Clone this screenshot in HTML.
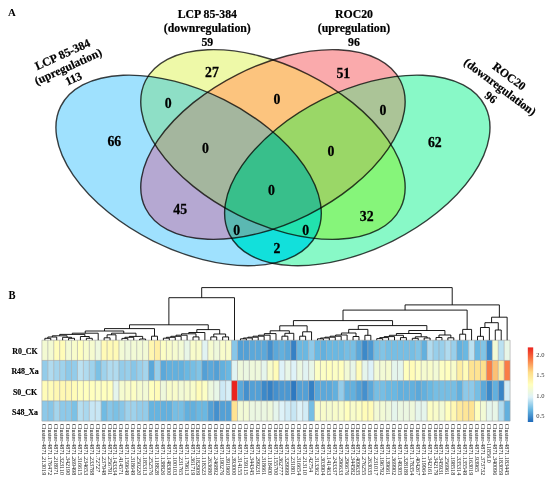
<!DOCTYPE html>
<html><head><meta charset="utf-8"><style>
html,body{margin:0;padding:0;background:#fff;}
svg{display:block;}
text{font-family:"Liberation Serif","Times New Roman",serif;}
.n{font-size:13.8px;font-weight:bold;text-anchor:middle;fill:#000;stroke:#000;stroke-width:0.25px;}
.l{font-size:11.8px;font-weight:bold;text-anchor:middle;fill:#000;stroke:#000;stroke-width:0.2px;}
.pl{font-size:11.5px;font-weight:bold;fill:#000;}
.rl{font-size:7.9px;font-weight:bold;text-anchor:middle;fill:#000;stroke:#000;stroke-width:0.15px;}
.cb{font-size:6.5px;fill:#333;}
.cl{font-size:6.1px;fill:#111;}
</style></head><body>
<svg width="550" height="482" viewBox="0 0 550 482">
<rect width="550" height="482" fill="#fff"/>
<text x="8.1" y="15.6" class="pl" style="font-size:10.8px">A</text>
<text transform="translate(8.5 299.0) scale(0.92 1.05)" class="pl">B</text>
<defs><clipPath id="cB"><ellipse cx="188.60" cy="170.40" rx="143.0" ry="79.0" transform="rotate(26.57 188.60 170.40)" /></clipPath><clipPath id="cY"><ellipse cx="272.95" cy="144.52" rx="142.5" ry="78.55" transform="rotate(26.57 272.95 144.52)" /></clipPath><clipPath id="cP"><ellipse cx="272.95" cy="144.52" rx="142.5" ry="78.55" transform="rotate(-26.57 272.95 144.52)" /></clipPath><clipPath id="cG"><ellipse cx="357.30" cy="170.40" rx="143.0" ry="79.0" transform="rotate(-26.57 357.30 170.40)" /></clipPath></defs><ellipse cx="188.60" cy="170.40" rx="143.0" ry="79.0" transform="rotate(26.57 188.60 170.40)" fill="#9fe1fe"/><ellipse cx="272.95" cy="144.52" rx="142.5" ry="78.55" transform="rotate(26.57 272.95 144.52)" fill="#eef9a8"/><ellipse cx="272.95" cy="144.52" rx="142.5" ry="78.55" transform="rotate(-26.57 272.95 144.52)" fill="#faaaac"/><ellipse cx="357.30" cy="170.40" rx="143.0" ry="79.0" transform="rotate(-26.57 357.30 170.40)" fill="#88f9c7"/><g clip-path="url(#cY)"><ellipse cx="188.60" cy="170.40" rx="143.0" ry="79.0" transform="rotate(26.57 188.60 170.40)" fill="#8edfc6"/></g><g clip-path="url(#cP)"><ellipse cx="188.60" cy="170.40" rx="143.0" ry="79.0" transform="rotate(26.57 188.60 170.40)" fill="#b5a8d2"/></g><g clip-path="url(#cG)"><ellipse cx="188.60" cy="170.40" rx="143.0" ry="79.0" transform="rotate(26.57 188.60 170.40)" fill="#12e0db"/></g><g clip-path="url(#cP)"><ellipse cx="272.95" cy="144.52" rx="142.5" ry="78.55" transform="rotate(26.57 272.95 144.52)" fill="#fcc47e"/></g><g clip-path="url(#cG)"><ellipse cx="272.95" cy="144.52" rx="142.5" ry="78.55" transform="rotate(26.57 272.95 144.52)" fill="#86f57a"/></g><g clip-path="url(#cG)"><ellipse cx="272.95" cy="144.52" rx="142.5" ry="78.55" transform="rotate(-26.57 272.95 144.52)" fill="#abc497"/></g><g clip-path="url(#cP)"><g clip-path="url(#cY)"><ellipse cx="188.60" cy="170.40" rx="143.0" ry="79.0" transform="rotate(26.57 188.60 170.40)" fill="#a4b69e"/></g></g><g clip-path="url(#cG)"><g clip-path="url(#cY)"><ellipse cx="188.60" cy="170.40" rx="143.0" ry="79.0" transform="rotate(26.57 188.60 170.40)" fill="#22e2ae"/></g></g><g clip-path="url(#cG)"><g clip-path="url(#cP)"><ellipse cx="188.60" cy="170.40" rx="143.0" ry="79.0" transform="rotate(26.57 188.60 170.40)" fill="#5bb8b2"/></g></g><g clip-path="url(#cG)"><g clip-path="url(#cP)"><ellipse cx="272.95" cy="144.52" rx="142.5" ry="78.55" transform="rotate(26.57 272.95 144.52)" fill="#9ad767"/></g></g><g clip-path="url(#cG)"><g clip-path="url(#cP)"><g clip-path="url(#cY)"><ellipse cx="188.60" cy="170.40" rx="143.0" ry="79.0" transform="rotate(26.57 188.60 170.40)" fill="#38bf8b"/></g></g></g><ellipse cx="188.60" cy="170.40" rx="143.0" ry="79.0" transform="rotate(26.57 188.60 170.40)" fill="none" stroke="#000" stroke-width="1.4" stroke-opacity="0.75"/><ellipse cx="272.95" cy="144.52" rx="142.5" ry="78.55" transform="rotate(26.57 272.95 144.52)" fill="none" stroke="#000" stroke-width="1.4" stroke-opacity="0.75"/><ellipse cx="272.95" cy="144.52" rx="142.5" ry="78.55" transform="rotate(-26.57 272.95 144.52)" fill="none" stroke="#000" stroke-width="1.4" stroke-opacity="0.75"/><ellipse cx="357.30" cy="170.40" rx="143.0" ry="79.0" transform="rotate(-26.57 357.30 170.40)" fill="none" stroke="#000" stroke-width="1.4" stroke-opacity="0.75"/><text transform="translate(114.3 145.85) scale(1 1.1)" class="n">66</text><text transform="translate(212 76.85) scale(1 1.1)" class="n">27</text><text transform="translate(343.3 77.75) scale(1 1.1)" class="n">51</text><text transform="translate(434.8 146.85) scale(1 1.1)" class="n">62</text><text transform="translate(168.2 107.75) scale(1 1.1)" class="n">0</text><text transform="translate(277 104.05) scale(1 1.1)" class="n">0</text><text transform="translate(383 114.85) scale(1 1.1)" class="n">0</text><text transform="translate(205.5 152.75) scale(1 1.1)" class="n">0</text><text transform="translate(331 156.05) scale(1 1.1)" class="n">0</text><text transform="translate(271.5 194.55) scale(1 1.1)" class="n">0</text><text transform="translate(180.2 213.95) scale(1 1.1)" class="n">45</text><text transform="translate(366.7 220.65) scale(1 1.1)" class="n">32</text><text transform="translate(236.6 234.95) scale(1 1.1)" class="n">0</text><text transform="translate(305.8 234.95) scale(1 1.1)" class="n">0</text><text transform="translate(277 252.85) scale(1 1.1)" class="n">2</text><text x="207.3" y="17.8" class="l">LCP 85-384</text><text x="207.3" y="31.8" class="l">(downregulation)</text><text x="207.3" y="45.8" class="l">59</text><text x="354" y="17.8" class="l">ROC20</text><text x="354" y="31.8" class="l">(upregulation)</text><text x="354" y="45.8" class="l">96</text><g transform="translate(68.0 66.4) scale(1 1.0) rotate(-24.5)"><text x="0" y="-9.20" class="l">LCP 85-384</text><text x="0" y="4.10" class="l">(upregulation)</text><text x="0" y="17.40" class="l">113</text></g><g transform="translate(499.4 86.1) scale(1 1.0) rotate(37.0)"><text x="2.0" y="-9.80" class="l">ROC20</text><text x="1.0" y="4.10" class="l">(downregulation)</text><text x="0" y="18.00" class="l">96</text></g>
<rect x="41.90" y="340.20" width="5.93" height="20.23" fill="#f3fad2"/><rect x="47.83" y="340.20" width="5.93" height="20.23" fill="#f3fad2"/><rect x="53.75" y="340.20" width="5.93" height="20.23" fill="#fffdbb"/><rect x="59.68" y="340.20" width="5.93" height="20.23" fill="#fffcb8"/><rect x="65.61" y="340.20" width="5.93" height="20.23" fill="#f3fad2"/><rect x="71.53" y="340.20" width="5.93" height="20.23" fill="#f8fcca"/><rect x="77.46" y="340.20" width="5.93" height="20.23" fill="#ffffbe"/><rect x="83.39" y="340.20" width="5.93" height="20.23" fill="#f7fccc"/><rect x="89.31" y="340.20" width="5.93" height="20.23" fill="#f5fbcf"/><rect x="95.24" y="340.20" width="5.93" height="20.23" fill="#edf8de"/><rect x="101.17" y="340.20" width="5.93" height="20.23" fill="#fffab6"/><rect x="107.09" y="340.20" width="5.93" height="20.23" fill="#fffab6"/><rect x="113.02" y="340.20" width="5.93" height="20.23" fill="#fffab6"/><rect x="118.95" y="340.20" width="5.93" height="20.23" fill="#f2fad5"/><rect x="124.87" y="340.20" width="5.93" height="20.23" fill="#eef8db"/><rect x="130.80" y="340.20" width="5.93" height="20.23" fill="#f2fad5"/><rect x="136.73" y="340.20" width="5.93" height="20.23" fill="#f2fad5"/><rect x="142.65" y="340.20" width="5.93" height="20.23" fill="#f2fad5"/><rect x="148.58" y="340.20" width="5.93" height="20.23" fill="#fff6b0"/><rect x="154.51" y="340.20" width="5.93" height="20.23" fill="#ffefa5"/><rect x="160.43" y="340.20" width="5.93" height="20.23" fill="#fcfec4"/><rect x="166.36" y="340.20" width="5.93" height="20.23" fill="#f8fcca"/><rect x="172.28" y="340.20" width="5.93" height="20.23" fill="#f5fbcf"/><rect x="178.21" y="340.20" width="5.93" height="20.23" fill="#f2fad5"/><rect x="184.14" y="340.20" width="5.93" height="20.23" fill="#e8f6e7"/><rect x="190.06" y="340.20" width="5.93" height="20.23" fill="#f8fcca"/><rect x="195.99" y="340.20" width="5.93" height="20.23" fill="#f8fcca"/><rect x="201.92" y="340.20" width="5.93" height="20.23" fill="#e1f3f2"/><rect x="207.84" y="340.20" width="5.93" height="20.23" fill="#f5fbcf"/><rect x="213.77" y="340.20" width="5.93" height="20.23" fill="#eef8db"/><rect x="219.70" y="340.20" width="5.93" height="20.23" fill="#f8fcca"/><rect x="225.62" y="340.20" width="5.93" height="20.23" fill="#f8fcca"/><rect x="231.55" y="340.20" width="5.93" height="20.23" fill="#87c6e8"/><rect x="237.48" y="340.20" width="5.93" height="20.23" fill="#53a0d6"/><rect x="243.40" y="340.20" width="5.93" height="20.23" fill="#53a0d6"/><rect x="249.33" y="340.20" width="5.93" height="20.23" fill="#5ba8da"/><rect x="255.26" y="340.20" width="5.93" height="20.23" fill="#5ba8da"/><rect x="261.18" y="340.20" width="5.93" height="20.23" fill="#5ba8da"/><rect x="267.11" y="340.20" width="5.93" height="20.23" fill="#4490ce"/><rect x="273.04" y="340.20" width="5.93" height="20.23" fill="#5ba8da"/><rect x="278.96" y="340.20" width="5.93" height="20.23" fill="#62b0de"/><rect x="284.89" y="340.20" width="5.93" height="20.23" fill="#5ba8da"/><rect x="290.82" y="340.20" width="5.93" height="20.23" fill="#3581c5"/><rect x="296.74" y="340.20" width="5.93" height="20.23" fill="#6ab8e2"/><rect x="302.67" y="340.20" width="5.93" height="20.23" fill="#6ab8e2"/><rect x="308.60" y="340.20" width="5.93" height="20.23" fill="#8dc9e9"/><rect x="314.52" y="340.20" width="5.93" height="20.23" fill="#6ab8e2"/><rect x="320.45" y="340.20" width="5.93" height="20.23" fill="#62b0de"/><rect x="326.38" y="340.20" width="5.93" height="20.23" fill="#6ab8e2"/><rect x="332.30" y="340.20" width="5.93" height="20.23" fill="#6ab8e2"/><rect x="338.23" y="340.20" width="5.93" height="20.23" fill="#6ab8e2"/><rect x="344.16" y="340.20" width="5.93" height="20.23" fill="#76bee4"/><rect x="350.08" y="340.20" width="5.93" height="20.23" fill="#76bee4"/><rect x="356.01" y="340.20" width="5.93" height="20.23" fill="#5ba8da"/><rect x="361.94" y="340.20" width="5.93" height="20.23" fill="#3c89c9"/><rect x="367.86" y="340.20" width="5.93" height="20.23" fill="#4c98d2"/><rect x="373.79" y="340.20" width="5.93" height="20.23" fill="#76bee4"/><rect x="379.72" y="340.20" width="5.93" height="20.23" fill="#81c4e6"/><rect x="385.64" y="340.20" width="5.93" height="20.23" fill="#76bee4"/><rect x="391.57" y="340.20" width="5.93" height="20.23" fill="#76bee4"/><rect x="397.49" y="340.20" width="5.93" height="20.23" fill="#76bee4"/><rect x="403.42" y="340.20" width="5.93" height="20.23" fill="#76bee4"/><rect x="409.35" y="340.20" width="5.93" height="20.23" fill="#76bee4"/><rect x="415.27" y="340.20" width="5.93" height="20.23" fill="#81c4e6"/><rect x="421.20" y="340.20" width="5.93" height="20.23" fill="#62b0de"/><rect x="427.13" y="340.20" width="5.93" height="20.23" fill="#b0dbef"/><rect x="433.05" y="340.20" width="5.93" height="20.23" fill="#98cfeb"/><rect x="438.98" y="340.20" width="5.93" height="20.23" fill="#98cfeb"/><rect x="444.91" y="340.20" width="5.93" height="20.23" fill="#b0dbef"/><rect x="450.83" y="340.20" width="5.93" height="20.23" fill="#98cfeb"/><rect x="456.76" y="340.20" width="5.93" height="20.23" fill="#62b0de"/><rect x="462.69" y="340.20" width="5.93" height="20.23" fill="#6ab8e2"/><rect x="468.61" y="340.20" width="5.93" height="20.23" fill="#bbe1f1"/><rect x="474.54" y="340.20" width="5.93" height="20.23" fill="#6ab8e2"/><rect x="480.47" y="340.20" width="5.93" height="20.23" fill="#81c4e6"/><rect x="486.39" y="340.20" width="5.93" height="20.23" fill="#3c89c9"/><rect x="492.32" y="340.20" width="5.93" height="20.23" fill="#f2fad5"/><rect x="498.25" y="340.20" width="5.93" height="20.23" fill="#bbe1f1"/><rect x="504.17" y="340.20" width="5.93" height="20.23" fill="#e8f6e7"/><rect x="41.90" y="360.43" width="5.93" height="20.23" fill="#93ccea"/><rect x="47.83" y="360.43" width="5.93" height="20.23" fill="#b0dbef"/><rect x="53.75" y="360.43" width="5.93" height="20.23" fill="#a4d5ed"/><rect x="59.68" y="360.43" width="5.93" height="20.23" fill="#9ed2ec"/><rect x="65.61" y="360.43" width="5.93" height="20.23" fill="#8dc9e9"/><rect x="71.53" y="360.43" width="5.93" height="20.23" fill="#93ccea"/><rect x="77.46" y="360.43" width="5.93" height="20.23" fill="#bbe1f1"/><rect x="83.39" y="360.43" width="5.93" height="20.23" fill="#b0dbef"/><rect x="89.31" y="360.43" width="5.93" height="20.23" fill="#9ed2ec"/><rect x="95.24" y="360.43" width="5.93" height="20.23" fill="#7bc1e5"/><rect x="101.17" y="360.43" width="5.93" height="20.23" fill="#9ed2ec"/><rect x="107.09" y="360.43" width="5.93" height="20.23" fill="#b0dbef"/><rect x="113.02" y="360.43" width="5.93" height="20.23" fill="#b0dbef"/><rect x="118.95" y="360.43" width="5.93" height="20.23" fill="#93ccea"/><rect x="124.87" y="360.43" width="5.93" height="20.23" fill="#98cfeb"/><rect x="130.80" y="360.43" width="5.93" height="20.23" fill="#87c6e8"/><rect x="136.73" y="360.43" width="5.93" height="20.23" fill="#98cfeb"/><rect x="142.65" y="360.43" width="5.93" height="20.23" fill="#a4d5ed"/><rect x="148.58" y="360.43" width="5.93" height="20.23" fill="#5ba8da"/><rect x="154.51" y="360.43" width="5.93" height="20.23" fill="#98cfeb"/><rect x="160.43" y="360.43" width="5.93" height="20.23" fill="#5ba8da"/><rect x="166.36" y="360.43" width="5.93" height="20.23" fill="#62b0de"/><rect x="172.28" y="360.43" width="5.93" height="20.23" fill="#62b0de"/><rect x="178.21" y="360.43" width="5.93" height="20.23" fill="#62b0de"/><rect x="184.14" y="360.43" width="5.93" height="20.23" fill="#6ab8e2"/><rect x="190.06" y="360.43" width="5.93" height="20.23" fill="#76bee4"/><rect x="195.99" y="360.43" width="5.93" height="20.23" fill="#81c4e6"/><rect x="201.92" y="360.43" width="5.93" height="20.23" fill="#53a0d6"/><rect x="207.84" y="360.43" width="5.93" height="20.23" fill="#5ba8da"/><rect x="213.77" y="360.43" width="5.93" height="20.23" fill="#53a0d6"/><rect x="219.70" y="360.43" width="5.93" height="20.23" fill="#62b0de"/><rect x="225.62" y="360.43" width="5.93" height="20.23" fill="#6ab8e2"/><rect x="231.55" y="360.43" width="5.93" height="20.23" fill="#e1f3f2"/><rect x="237.48" y="360.43" width="5.93" height="20.23" fill="#eef8db"/><rect x="243.40" y="360.43" width="5.93" height="20.23" fill="#ebf7e1"/><rect x="249.33" y="360.43" width="5.93" height="20.23" fill="#eef8db"/><rect x="255.26" y="360.43" width="5.93" height="20.23" fill="#eef8db"/><rect x="261.18" y="360.43" width="5.93" height="20.23" fill="#e5f5ec"/><rect x="267.11" y="360.43" width="5.93" height="20.23" fill="#f8fcca"/><rect x="273.04" y="360.43" width="5.93" height="20.23" fill="#fffcb8"/><rect x="278.96" y="360.43" width="5.93" height="20.23" fill="#def2f8"/><rect x="284.89" y="360.43" width="5.93" height="20.23" fill="#e8f6e7"/><rect x="290.82" y="360.43" width="5.93" height="20.23" fill="#def2f8"/><rect x="296.74" y="360.43" width="5.93" height="20.23" fill="#ebf7e1"/><rect x="302.67" y="360.43" width="5.93" height="20.23" fill="#e1f3f2"/><rect x="308.60" y="360.43" width="5.93" height="20.23" fill="#e8f6e7"/><rect x="314.52" y="360.43" width="5.93" height="20.23" fill="#fcfec4"/><rect x="320.45" y="360.43" width="5.93" height="20.23" fill="#fcfec4"/><rect x="326.38" y="360.43" width="5.93" height="20.23" fill="#ffffbe"/><rect x="332.30" y="360.43" width="5.93" height="20.23" fill="#fcfec4"/><rect x="338.23" y="360.43" width="5.93" height="20.23" fill="#ffffbe"/><rect x="344.16" y="360.43" width="5.93" height="20.23" fill="#f2fad5"/><rect x="350.08" y="360.43" width="5.93" height="20.23" fill="#e8f6e7"/><rect x="356.01" y="360.43" width="5.93" height="20.23" fill="#fffcb8"/><rect x="361.94" y="360.43" width="5.93" height="20.23" fill="#e5f5ec"/><rect x="367.86" y="360.43" width="5.93" height="20.23" fill="#def2f8"/><rect x="373.79" y="360.43" width="5.93" height="20.23" fill="#f2fad5"/><rect x="379.72" y="360.43" width="5.93" height="20.23" fill="#f2fad5"/><rect x="385.64" y="360.43" width="5.93" height="20.23" fill="#f5fbcf"/><rect x="391.57" y="360.43" width="5.93" height="20.23" fill="#e5f5ec"/><rect x="397.49" y="360.43" width="5.93" height="20.23" fill="#e5f5ec"/><rect x="403.42" y="360.43" width="5.93" height="20.23" fill="#ffffbe"/><rect x="409.35" y="360.43" width="5.93" height="20.23" fill="#fffcb8"/><rect x="415.27" y="360.43" width="5.93" height="20.23" fill="#fcfec4"/><rect x="421.20" y="360.43" width="5.93" height="20.23" fill="#f5fbcf"/><rect x="427.13" y="360.43" width="5.93" height="20.23" fill="#f8fcca"/><rect x="433.05" y="360.43" width="5.93" height="20.23" fill="#f2fad5"/><rect x="438.98" y="360.43" width="5.93" height="20.23" fill="#fcfec4"/><rect x="444.91" y="360.43" width="5.93" height="20.23" fill="#ffffbe"/><rect x="450.83" y="360.43" width="5.93" height="20.23" fill="#f8fcca"/><rect x="456.76" y="360.43" width="5.93" height="20.23" fill="#feeea2"/><rect x="462.69" y="360.43" width="5.93" height="20.23" fill="#fffcb8"/><rect x="468.61" y="360.43" width="5.93" height="20.23" fill="#fee392"/><rect x="474.54" y="360.43" width="5.93" height="20.23" fill="#fee392"/><rect x="480.47" y="360.43" width="5.93" height="20.23" fill="#fee08c"/><rect x="486.39" y="360.43" width="5.93" height="20.23" fill="#fa7d46"/><rect x="492.32" y="360.43" width="5.93" height="20.23" fill="#fdc074"/><rect x="498.25" y="360.43" width="5.93" height="20.23" fill="#feeea2"/><rect x="504.17" y="360.43" width="5.93" height="20.23" fill="#fa7d46"/><rect x="41.90" y="380.65" width="5.93" height="20.23" fill="#fffcb8"/><rect x="47.83" y="380.65" width="5.93" height="20.23" fill="#fffcb8"/><rect x="53.75" y="380.65" width="5.93" height="20.23" fill="#fff8b3"/><rect x="59.68" y="380.65" width="5.93" height="20.23" fill="#fff8b3"/><rect x="65.61" y="380.65" width="5.93" height="20.23" fill="#fff8b3"/><rect x="71.53" y="380.65" width="5.93" height="20.23" fill="#fffcb8"/><rect x="77.46" y="380.65" width="5.93" height="20.23" fill="#ffffbe"/><rect x="83.39" y="380.65" width="5.93" height="20.23" fill="#ffffbe"/><rect x="89.31" y="380.65" width="5.93" height="20.23" fill="#ffffbe"/><rect x="95.24" y="380.65" width="5.93" height="20.23" fill="#fcfec4"/><rect x="101.17" y="380.65" width="5.93" height="20.23" fill="#ffffbe"/><rect x="107.09" y="380.65" width="5.93" height="20.23" fill="#ffffbe"/><rect x="113.02" y="380.65" width="5.93" height="20.23" fill="#e5f5ec"/><rect x="118.95" y="380.65" width="5.93" height="20.23" fill="#f5fbcf"/><rect x="124.87" y="380.65" width="5.93" height="20.23" fill="#f8fcca"/><rect x="130.80" y="380.65" width="5.93" height="20.23" fill="#fcfec4"/><rect x="136.73" y="380.65" width="5.93" height="20.23" fill="#f5fbcf"/><rect x="142.65" y="380.65" width="5.93" height="20.23" fill="#f2fad5"/><rect x="148.58" y="380.65" width="5.93" height="20.23" fill="#ffffbe"/><rect x="154.51" y="380.65" width="5.93" height="20.23" fill="#fffcb8"/><rect x="160.43" y="380.65" width="5.93" height="20.23" fill="#eef8db"/><rect x="166.36" y="380.65" width="5.93" height="20.23" fill="#f8fcca"/><rect x="172.28" y="380.65" width="5.93" height="20.23" fill="#f8fcca"/><rect x="178.21" y="380.65" width="5.93" height="20.23" fill="#f2fad5"/><rect x="184.14" y="380.65" width="5.93" height="20.23" fill="#f5fbcf"/><rect x="190.06" y="380.65" width="5.93" height="20.23" fill="#f8fcca"/><rect x="195.99" y="380.65" width="5.93" height="20.23" fill="#fffcb8"/><rect x="201.92" y="380.65" width="5.93" height="20.23" fill="#fcfec4"/><rect x="207.84" y="380.65" width="5.93" height="20.23" fill="#edf8de"/><rect x="213.77" y="380.65" width="5.93" height="20.23" fill="#e8f6e7"/><rect x="219.70" y="380.65" width="5.93" height="20.23" fill="#cde9f5"/><rect x="225.62" y="380.65" width="5.93" height="20.23" fill="#d8eff7"/><rect x="231.55" y="380.65" width="5.93" height="20.23" fill="#eb231e"/><rect x="237.48" y="380.65" width="5.93" height="20.23" fill="#5ba8da"/><rect x="243.40" y="380.65" width="5.93" height="20.23" fill="#4490ce"/><rect x="249.33" y="380.65" width="5.93" height="20.23" fill="#53a0d6"/><rect x="255.26" y="380.65" width="5.93" height="20.23" fill="#53a0d6"/><rect x="261.18" y="380.65" width="5.93" height="20.23" fill="#3c89c9"/><rect x="267.11" y="380.65" width="5.93" height="20.23" fill="#3581c5"/><rect x="273.04" y="380.65" width="5.93" height="20.23" fill="#4490ce"/><rect x="278.96" y="380.65" width="5.93" height="20.23" fill="#4c98d2"/><rect x="284.89" y="380.65" width="5.93" height="20.23" fill="#4c98d2"/><rect x="290.82" y="380.65" width="5.93" height="20.23" fill="#2d79c1"/><rect x="296.74" y="380.65" width="5.93" height="20.23" fill="#53a0d6"/><rect x="302.67" y="380.65" width="5.93" height="20.23" fill="#53a0d6"/><rect x="308.60" y="380.65" width="5.93" height="20.23" fill="#3581c5"/><rect x="314.52" y="380.65" width="5.93" height="20.23" fill="#5ba8da"/><rect x="320.45" y="380.65" width="5.93" height="20.23" fill="#5ba8da"/><rect x="326.38" y="380.65" width="5.93" height="20.23" fill="#5ba8da"/><rect x="332.30" y="380.65" width="5.93" height="20.23" fill="#62b0de"/><rect x="338.23" y="380.65" width="5.93" height="20.23" fill="#93ccea"/><rect x="344.16" y="380.65" width="5.93" height="20.23" fill="#62b0de"/><rect x="350.08" y="380.65" width="5.93" height="20.23" fill="#62b0de"/><rect x="356.01" y="380.65" width="5.93" height="20.23" fill="#53a0d6"/><rect x="361.94" y="380.65" width="5.93" height="20.23" fill="#4490ce"/><rect x="367.86" y="380.65" width="5.93" height="20.23" fill="#5ba8da"/><rect x="373.79" y="380.65" width="5.93" height="20.23" fill="#76bee4"/><rect x="379.72" y="380.65" width="5.93" height="20.23" fill="#76bee4"/><rect x="385.64" y="380.65" width="5.93" height="20.23" fill="#6ab8e2"/><rect x="391.57" y="380.65" width="5.93" height="20.23" fill="#6ab8e2"/><rect x="397.49" y="380.65" width="5.93" height="20.23" fill="#62b0de"/><rect x="403.42" y="380.65" width="5.93" height="20.23" fill="#62b0de"/><rect x="409.35" y="380.65" width="5.93" height="20.23" fill="#62b0de"/><rect x="415.27" y="380.65" width="5.93" height="20.23" fill="#5ba8da"/><rect x="421.20" y="380.65" width="5.93" height="20.23" fill="#62b0de"/><rect x="427.13" y="380.65" width="5.93" height="20.23" fill="#6ab8e2"/><rect x="433.05" y="380.65" width="5.93" height="20.23" fill="#76bee4"/><rect x="438.98" y="380.65" width="5.93" height="20.23" fill="#76bee4"/><rect x="444.91" y="380.65" width="5.93" height="20.23" fill="#76bee4"/><rect x="450.83" y="380.65" width="5.93" height="20.23" fill="#76bee4"/><rect x="456.76" y="380.65" width="5.93" height="20.23" fill="#62b0de"/><rect x="462.69" y="380.65" width="5.93" height="20.23" fill="#8dc9e9"/><rect x="468.61" y="380.65" width="5.93" height="20.23" fill="#8dc9e9"/><rect x="474.54" y="380.65" width="5.93" height="20.23" fill="#76bee4"/><rect x="480.47" y="380.65" width="5.93" height="20.23" fill="#5ba8da"/><rect x="486.39" y="380.65" width="5.93" height="20.23" fill="#3c89c9"/><rect x="492.32" y="380.65" width="5.93" height="20.23" fill="#62b0de"/><rect x="498.25" y="380.65" width="5.93" height="20.23" fill="#3985c7"/><rect x="504.17" y="380.65" width="5.93" height="20.23" fill="#d2ecf6"/><rect x="41.90" y="400.88" width="5.93" height="20.23" fill="#8dc9e9"/><rect x="47.83" y="400.88" width="5.93" height="20.23" fill="#87c6e8"/><rect x="53.75" y="400.88" width="5.93" height="20.23" fill="#a4d5ed"/><rect x="59.68" y="400.88" width="5.93" height="20.23" fill="#8dc9e9"/><rect x="65.61" y="400.88" width="5.93" height="20.23" fill="#8dc9e9"/><rect x="71.53" y="400.88" width="5.93" height="20.23" fill="#7bc1e5"/><rect x="77.46" y="400.88" width="5.93" height="20.23" fill="#b5def0"/><rect x="83.39" y="400.88" width="5.93" height="20.23" fill="#aad8ee"/><rect x="89.31" y="400.88" width="5.93" height="20.23" fill="#c7e6f4"/><rect x="95.24" y="400.88" width="5.93" height="20.23" fill="#c7e6f4"/><rect x="101.17" y="400.88" width="5.93" height="20.23" fill="#70bbe3"/><rect x="107.09" y="400.88" width="5.93" height="20.23" fill="#87c6e8"/><rect x="113.02" y="400.88" width="5.93" height="20.23" fill="#7bc1e5"/><rect x="118.95" y="400.88" width="5.93" height="20.23" fill="#87c6e8"/><rect x="124.87" y="400.88" width="5.93" height="20.23" fill="#9ed2ec"/><rect x="130.80" y="400.88" width="5.93" height="20.23" fill="#9ed2ec"/><rect x="136.73" y="400.88" width="5.93" height="20.23" fill="#93ccea"/><rect x="142.65" y="400.88" width="5.93" height="20.23" fill="#93ccea"/><rect x="148.58" y="400.88" width="5.93" height="20.23" fill="#66b4e0"/><rect x="154.51" y="400.88" width="5.93" height="20.23" fill="#66b4e0"/><rect x="160.43" y="400.88" width="5.93" height="20.23" fill="#62b0de"/><rect x="166.36" y="400.88" width="5.93" height="20.23" fill="#62b0de"/><rect x="172.28" y="400.88" width="5.93" height="20.23" fill="#76bee4"/><rect x="178.21" y="400.88" width="5.93" height="20.23" fill="#76bee4"/><rect x="184.14" y="400.88" width="5.93" height="20.23" fill="#62b0de"/><rect x="190.06" y="400.88" width="5.93" height="20.23" fill="#62b0de"/><rect x="195.99" y="400.88" width="5.93" height="20.23" fill="#6ab8e2"/><rect x="201.92" y="400.88" width="5.93" height="20.23" fill="#6ab8e2"/><rect x="207.84" y="400.88" width="5.93" height="20.23" fill="#53a0d6"/><rect x="213.77" y="400.88" width="5.93" height="20.23" fill="#4490ce"/><rect x="219.70" y="400.88" width="5.93" height="20.23" fill="#53a0d6"/><rect x="225.62" y="400.88" width="5.93" height="20.23" fill="#53a0d6"/><rect x="231.55" y="400.88" width="5.93" height="20.23" fill="#fee392"/><rect x="237.48" y="400.88" width="5.93" height="20.23" fill="#f2fad5"/><rect x="243.40" y="400.88" width="5.93" height="20.23" fill="#f2fad5"/><rect x="249.33" y="400.88" width="5.93" height="20.23" fill="#ebf7e1"/><rect x="255.26" y="400.88" width="5.93" height="20.23" fill="#ebf7e1"/><rect x="261.18" y="400.88" width="5.93" height="20.23" fill="#ebf7e1"/><rect x="267.11" y="400.88" width="5.93" height="20.23" fill="#eef8db"/><rect x="273.04" y="400.88" width="5.93" height="20.23" fill="#e5f5ec"/><rect x="278.96" y="400.88" width="5.93" height="20.23" fill="#def2f8"/><rect x="284.89" y="400.88" width="5.93" height="20.23" fill="#d2ecf6"/><rect x="290.82" y="400.88" width="5.93" height="20.23" fill="#c7e6f4"/><rect x="296.74" y="400.88" width="5.93" height="20.23" fill="#def2f8"/><rect x="302.67" y="400.88" width="5.93" height="20.23" fill="#d2ecf6"/><rect x="308.60" y="400.88" width="5.93" height="20.23" fill="#76bee4"/><rect x="314.52" y="400.88" width="5.93" height="20.23" fill="#f8fcca"/><rect x="320.45" y="400.88" width="5.93" height="20.23" fill="#f8fcca"/><rect x="326.38" y="400.88" width="5.93" height="20.23" fill="#f5fbcf"/><rect x="332.30" y="400.88" width="5.93" height="20.23" fill="#f8fcca"/><rect x="338.23" y="400.88" width="5.93" height="20.23" fill="#f8fcca"/><rect x="344.16" y="400.88" width="5.93" height="20.23" fill="#ffffbe"/><rect x="350.08" y="400.88" width="5.93" height="20.23" fill="#f8fcca"/><rect x="356.01" y="400.88" width="5.93" height="20.23" fill="#fcfec4"/><rect x="361.94" y="400.88" width="5.93" height="20.23" fill="#fffcb8"/><rect x="367.86" y="400.88" width="5.93" height="20.23" fill="#fffcb8"/><rect x="373.79" y="400.88" width="5.93" height="20.23" fill="#f2fad5"/><rect x="379.72" y="400.88" width="5.93" height="20.23" fill="#f2fad5"/><rect x="385.64" y="400.88" width="5.93" height="20.23" fill="#eef8db"/><rect x="391.57" y="400.88" width="5.93" height="20.23" fill="#e5f5ec"/><rect x="397.49" y="400.88" width="5.93" height="20.23" fill="#ebf7e1"/><rect x="403.42" y="400.88" width="5.93" height="20.23" fill="#ebf7e1"/><rect x="409.35" y="400.88" width="5.93" height="20.23" fill="#eef8db"/><rect x="415.27" y="400.88" width="5.93" height="20.23" fill="#e5f5ec"/><rect x="421.20" y="400.88" width="5.93" height="20.23" fill="#e5f5ec"/><rect x="427.13" y="400.88" width="5.93" height="20.23" fill="#fcfec4"/><rect x="433.05" y="400.88" width="5.93" height="20.23" fill="#f8fcca"/><rect x="438.98" y="400.88" width="5.93" height="20.23" fill="#f2fad5"/><rect x="444.91" y="400.88" width="5.93" height="20.23" fill="#ffffbe"/><rect x="450.83" y="400.88" width="5.93" height="20.23" fill="#fff8b3"/><rect x="456.76" y="400.88" width="5.93" height="20.23" fill="#feea9d"/><rect x="462.69" y="400.88" width="5.93" height="20.23" fill="#fee698"/><rect x="468.61" y="400.88" width="5.93" height="20.23" fill="#fee392"/><rect x="474.54" y="400.88" width="5.93" height="20.23" fill="#ffffbe"/><rect x="480.47" y="400.88" width="5.93" height="20.23" fill="#f2fad5"/><rect x="486.39" y="400.88" width="5.93" height="20.23" fill="#e5f5ec"/><rect x="492.32" y="400.88" width="5.93" height="20.23" fill="#e8f6e7"/><rect x="498.25" y="400.88" width="5.93" height="20.23" fill="#b0dbef"/><rect x="504.17" y="400.88" width="5.93" height="20.23" fill="#62b0de"/><path d="M41.90 340.20V421.10M47.83 340.20V421.10M53.75 340.20V421.10M59.68 340.20V421.10M65.61 340.20V421.10M71.53 340.20V421.10M77.46 340.20V421.10M83.39 340.20V421.10M89.31 340.20V421.10M95.24 340.20V421.10M101.17 340.20V421.10M107.09 340.20V421.10M113.02 340.20V421.10M118.95 340.20V421.10M124.87 340.20V421.10M130.80 340.20V421.10M136.73 340.20V421.10M142.65 340.20V421.10M148.58 340.20V421.10M154.51 340.20V421.10M160.43 340.20V421.10M166.36 340.20V421.10M172.28 340.20V421.10M178.21 340.20V421.10M184.14 340.20V421.10M190.06 340.20V421.10M195.99 340.20V421.10M201.92 340.20V421.10M207.84 340.20V421.10M213.77 340.20V421.10M219.70 340.20V421.10M225.62 340.20V421.10M231.55 340.20V421.10M237.48 340.20V421.10M243.40 340.20V421.10M249.33 340.20V421.10M255.26 340.20V421.10M261.18 340.20V421.10M267.11 340.20V421.10M273.04 340.20V421.10M278.96 340.20V421.10M284.89 340.20V421.10M290.82 340.20V421.10M296.74 340.20V421.10M302.67 340.20V421.10M308.60 340.20V421.10M314.52 340.20V421.10M320.45 340.20V421.10M326.38 340.20V421.10M332.30 340.20V421.10M338.23 340.20V421.10M344.16 340.20V421.10M350.08 340.20V421.10M356.01 340.20V421.10M361.94 340.20V421.10M367.86 340.20V421.10M373.79 340.20V421.10M379.72 340.20V421.10M385.64 340.20V421.10M391.57 340.20V421.10M397.49 340.20V421.10M403.42 340.20V421.10M409.35 340.20V421.10M415.27 340.20V421.10M421.20 340.20V421.10M427.13 340.20V421.10M433.05 340.20V421.10M438.98 340.20V421.10M444.91 340.20V421.10M450.83 340.20V421.10M456.76 340.20V421.10M462.69 340.20V421.10M468.61 340.20V421.10M474.54 340.20V421.10M480.47 340.20V421.10M486.39 340.20V421.10M492.32 340.20V421.10M498.25 340.20V421.10M504.17 340.20V421.10M510.10 340.20V421.10M41.90 340.20H510.10M41.90 360.43H510.10M41.90 380.65H510.10M41.90 400.88H510.10M41.90 421.10H510.10" stroke="#a3a3a3" stroke-width="0.6" fill="none"/><text x="25" y="354.0" class="rl">R0_CK</text><text x="25" y="374.2" class="rl">R48_Xa</text><text x="25" y="394.5" class="rl">S0_CK</text><text x="25" y="414.7" class="rl">S48_Xa</text>
<path d="M44.86 340.20V338.30H50.79V340.20M47.83 338.30V337.00H56.72V340.20M68.57 340.20V338.30H74.50V340.20M62.64 340.20V337.30H71.53V338.30M52.27 337.00V335.80H67.09V337.30M86.35 340.20V338.30H92.28V340.20M80.42 340.20V336.50H89.31V338.30M59.68 335.80V334.40H84.87V336.50M72.27 334.40V333.20H98.20V340.20M104.13 340.20V337.80H110.06V340.20M107.09 337.80V334.80H115.98V340.20M121.91 340.20V338.40H127.84V340.20M124.87 338.40V337.30H133.76V340.20M139.69 340.20V339.00H145.62V340.20M129.32 337.30V336.40H142.65V339.00M111.54 334.80V333.20H135.98V336.40M85.24 333.20V331.00H123.76V333.20M151.54 340.20V336.20H157.47V340.20M104.50 331.00V328.60H154.51V336.20M163.39 340.20V338.20H169.32V340.20M166.36 338.20V337.30H175.25V340.20M170.80 337.30V336.30H181.17V340.20M175.99 336.30V335.20H187.10V340.20M193.03 340.20V336.90H198.95V340.20M181.55 335.20V333.80H195.99V336.90M188.77 333.80V332.50H204.88V340.20M210.81 340.20V336.90H216.73V340.20M222.66 340.20V336.90H228.59V340.20M213.77 336.90V334.00H225.62V336.90M196.82 332.50V329.60H219.70V334.00M129.50 328.60V324.80H208.26V329.60M168.88 324.80V297.70H234.51V340.20M240.44 340.20V338.80H246.37V340.20M243.40 338.80V338.00H252.29V340.20M247.85 338.00V337.20H258.22V340.20M253.03 337.20V336.20H264.15V340.20M258.59 336.20V335.20H270.07V340.20M264.33 335.20V333.60H276.00V340.20M281.93 340.20V336.20H287.85V340.20M284.89 336.20V333.30H293.78V340.20M270.17 333.60V330.80H289.33V333.30M299.71 340.20V336.20H305.63V340.20M302.67 336.20V331.80H311.56V340.20M279.75 330.80V325.80H307.11V331.80M317.49 340.20V338.80H323.41V340.20M320.45 338.80V338.00H329.34V340.20M324.89 338.00V337.20H335.27V340.20M330.08 337.20V336.20H341.19V340.20M335.64 336.20V335.00H347.12V340.20M353.05 340.20V336.50H358.97V340.20M341.38 335.00V333.00H356.01V336.50M364.90 340.20V335.30H370.83V340.20M348.69 333.00V329.40H367.86V335.30M376.75 340.20V338.60H382.68V340.20M379.72 338.60V337.60H388.61V340.20M384.16 337.60V336.60H394.53V340.20M400.46 340.20V337.60H406.38V340.20M389.35 336.60V335.30H403.42V337.60M412.31 340.20V338.30H418.24V340.20M424.16 340.20V338.00H430.09V340.20M415.27 338.30V336.80H427.13V338.00M396.38 335.30V333.50H421.20V336.80M436.02 340.20V337.50H441.94V340.20M447.87 340.20V337.80H453.80V340.20M438.98 337.50V335.00H450.83V337.80M408.79 333.50V330.50H444.91V335.00M358.28 329.40V325.60H426.85V330.50M293.43 325.80V320.60H392.56V325.60M459.72 340.20V334.20H465.65V340.20M462.69 334.20V329.40H471.58V340.20M343.00 320.60V310.10H467.13V329.40M477.50 340.20V336.30H483.43V340.20M480.47 336.30V327.50H489.36V340.20M495.28 340.20V330.00H501.21V340.20M484.91 327.50V322.70H498.25V330.00M491.58 322.70V317.20H507.14V340.20M405.07 310.10V304.90H499.36V317.20M201.70 297.70V287.60H452.21V304.90" stroke="#000" stroke-width="0.9" fill="none"/>
<defs><linearGradient id="cbg" x1="0" y1="1" x2="0" y2="0"><stop offset="0.0000" stop-color="#1e69b9"/><stop offset="0.1667" stop-color="#6ab8e2"/><stop offset="0.3333" stop-color="#def2f8"/><stop offset="0.5000" stop-color="#ffffbe"/><stop offset="0.6667" stop-color="#fedc87"/><stop offset="0.8333" stop-color="#fa7d46"/><stop offset="1.0000" stop-color="#eb231e"/></linearGradient></defs><rect x="527.8" y="347.4" width="5.4" height="74.6" fill="url(#cbg)"/><text x="536.3" y="357.0" class="cb">2.0</text><text x="536.3" y="377.3" class="cb">1.5</text><text x="536.3" y="397.8" class="cb">1.0</text><text x="536.3" y="417.6" class="cb">0.5</text>
<text transform="translate(42.36 423.7) rotate(90)" class="cl">Cluster-4871.213019</text><text transform="translate(48.29 423.7) rotate(90)" class="cl">Cluster-4871.176472</text><text transform="translate(54.22 423.7) rotate(90)" class="cl">Cluster-4871.218971</text><text transform="translate(60.14 423.7) rotate(90)" class="cl">Cluster-4871.323110</text><text transform="translate(66.07 423.7) rotate(90)" class="cl">Cluster-4871.342190</text><text transform="translate(72.00 423.7) rotate(90)" class="cl">Cluster-4871.269498</text><text transform="translate(77.92 423.7) rotate(90)" class="cl">Cluster-4871.316615</text><text transform="translate(83.85 423.7) rotate(90)" class="cl">Cluster-4871.234653</text><text transform="translate(89.78 423.7) rotate(90)" class="cl">Cluster-4871.233788</text><text transform="translate(95.70 423.7) rotate(90)" class="cl">Cluster-4871.72727</text><text transform="translate(101.63 423.7) rotate(90)" class="cl">Cluster-4871.237948</text><text transform="translate(107.56 423.7) rotate(90)" class="cl">Cluster-4871.256791</text><text transform="translate(113.48 423.7) rotate(90)" class="cl">Cluster-4871.143334</text><text transform="translate(119.41 423.7) rotate(90)" class="cl">Cluster-4871.414571</text><text transform="translate(125.34 423.7) rotate(90)" class="cl">Cluster-4871.159649</text><text transform="translate(131.26 423.7) rotate(90)" class="cl">Cluster-4871.318649</text><text transform="translate(137.19 423.7) rotate(90)" class="cl">Cluster-4871.250220</text><text transform="translate(143.12 423.7) rotate(90)" class="cl">Cluster-4871.185313</text><text transform="translate(149.04 423.7) rotate(90)" class="cl">Cluster-4871.252576</text><text transform="translate(154.97 423.7) rotate(90)" class="cl">Cluster-4871.118828</text><text transform="translate(160.89 423.7) rotate(90)" class="cl">Cluster-4871.138826</text><text transform="translate(166.82 423.7) rotate(90)" class="cl">Cluster-4871.148300</text><text transform="translate(172.75 423.7) rotate(90)" class="cl">Cluster-4871.100103</text><text transform="translate(178.67 423.7) rotate(90)" class="cl">Cluster-4871.231765</text><text transform="translate(184.60 423.7) rotate(90)" class="cl">Cluster-4871.179613</text><text transform="translate(190.53 423.7) rotate(90)" class="cl">Cluster-4871.361719</text><text transform="translate(196.45 423.7) rotate(90)" class="cl">Cluster-4871.182909</text><text transform="translate(202.38 423.7) rotate(90)" class="cl">Cluster-4871.118323</text><text transform="translate(208.31 423.7) rotate(90)" class="cl">Cluster-4871.263680</text><text transform="translate(214.23 423.7) rotate(90)" class="cl">Cluster-4871.246892</text><text transform="translate(220.16 423.7) rotate(90)" class="cl">Cluster-4871.190276</text><text transform="translate(226.09 423.7) rotate(90)" class="cl">Cluster-4871.391960</text><text transform="translate(232.01 423.7) rotate(90)" class="cl">Cluster-4871.393000</text><text transform="translate(237.94 423.7) rotate(90)" class="cl">Cluster-4871.314155</text><text transform="translate(243.87 423.7) rotate(90)" class="cl">Cluster-4871.159115</text><text transform="translate(249.79 423.7) rotate(90)" class="cl">Cluster-4871.344345</text><text transform="translate(255.72 423.7) rotate(90)" class="cl">Cluster-4871.299231</text><text transform="translate(261.65 423.7) rotate(90)" class="cl">Cluster-4871.318661</text><text transform="translate(267.57 423.7) rotate(90)" class="cl">Cluster-4871.118400</text><text transform="translate(273.50 423.7) rotate(90)" class="cl">Cluster-4871.155700</text><text transform="translate(279.43 423.7) rotate(90)" class="cl">Cluster-4871.362777</text><text transform="translate(285.35 423.7) rotate(90)" class="cl">Cluster-4871.329999</text><text transform="translate(291.28 423.7) rotate(90)" class="cl">Cluster-4871.231801</text><text transform="translate(297.21 423.7) rotate(90)" class="cl">Cluster-4871.316654</text><text transform="translate(303.13 423.7) rotate(90)" class="cl">Cluster-4871.213110</text><text transform="translate(309.06 423.7) rotate(90)" class="cl">Cluster-4871.42754</text><text transform="translate(314.99 423.7) rotate(90)" class="cl">Cluster-4871.313362</text><text transform="translate(320.91 423.7) rotate(90)" class="cl">Cluster-4871.303904</text><text transform="translate(326.84 423.7) rotate(90)" class="cl">Cluster-4871.141463</text><text transform="translate(332.77 423.7) rotate(90)" class="cl">Cluster-4871.243337</text><text transform="translate(338.69 423.7) rotate(90)" class="cl">Cluster-4871.296633</text><text transform="translate(344.62 423.7) rotate(90)" class="cl">Cluster-4871.296676</text><text transform="translate(350.55 423.7) rotate(90)" class="cl">Cluster-4871.344582</text><text transform="translate(356.47 423.7) rotate(90)" class="cl">Cluster-4871.409635</text><text transform="translate(362.40 423.7) rotate(90)" class="cl">Cluster-4871.276255</text><text transform="translate(368.33 423.7) rotate(90)" class="cl">Cluster-4871.263035</text><text transform="translate(374.25 423.7) rotate(90)" class="cl">Cluster-4871.231017</text><text transform="translate(380.18 423.7) rotate(90)" class="cl">Cluster-4871.196792</text><text transform="translate(386.11 423.7) rotate(90)" class="cl">Cluster-4871.139661</text><text transform="translate(392.03 423.7) rotate(90)" class="cl">Cluster-4871.369902</text><text transform="translate(397.96 423.7) rotate(90)" class="cl">Cluster-4871.149305</text><text transform="translate(403.88 423.7) rotate(90)" class="cl">Cluster-4871.328189</text><text transform="translate(409.81 423.7) rotate(90)" class="cl">Cluster-4871.178354</text><text transform="translate(415.74 423.7) rotate(90)" class="cl">Cluster-4871.404267</text><text transform="translate(421.66 423.7) rotate(90)" class="cl">Cluster-4871.119964</text><text transform="translate(427.59 423.7) rotate(90)" class="cl">Cluster-4871.342161</text><text transform="translate(433.52 423.7) rotate(90)" class="cl">Cluster-4871.342179</text><text transform="translate(439.44 423.7) rotate(90)" class="cl">Cluster-4871.345931</text><text transform="translate(445.37 423.7) rotate(90)" class="cl">Cluster-4871.256961</text><text transform="translate(451.30 423.7) rotate(90)" class="cl">Cluster-4871.198518</text><text transform="translate(457.22 423.7) rotate(90)" class="cl">Cluster-4871.335314</text><text transform="translate(463.15 423.7) rotate(90)" class="cl">Cluster-4871.135549</text><text transform="translate(469.08 423.7) rotate(90)" class="cl">Cluster-4871.163019</text><text transform="translate(475.00 423.7) rotate(90)" class="cl">Cluster-4871.93965</text><text transform="translate(480.93 423.7) rotate(90)" class="cl">Cluster-4871.373732</text><text transform="translate(486.86 423.7) rotate(90)" class="cl">Cluster-11856.0</text><text transform="translate(492.78 423.7) rotate(90)" class="cl">Cluster-4871.340096</text><text transform="translate(498.71 423.7) rotate(90)" class="cl">Cluster-4871.183059</text><text transform="translate(504.64 423.7) rotate(90)" class="cl">Cluster-4871.183445</text>
</svg>
</body></html>
